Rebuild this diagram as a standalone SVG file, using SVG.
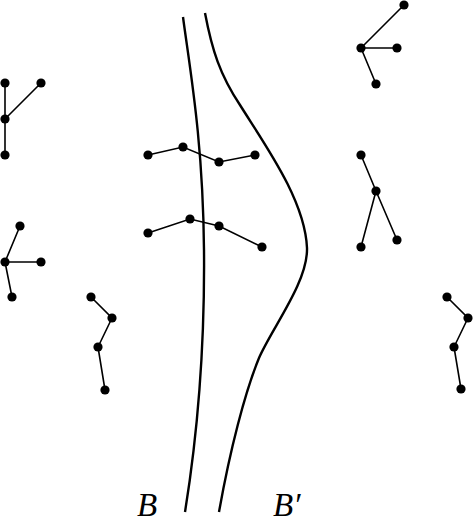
<svg xmlns="http://www.w3.org/2000/svg" width="474" height="524" viewBox="0 0 474 524">
<style>
.e{stroke:#000;stroke-width:1.6;fill:none}
.c{stroke:#000;stroke-width:2.4;fill:none}
.n{fill:#000}
.l{font-family:"Liberation Serif",serif;font-style:italic;font-size:33px;fill:#000}
</style>
<rect width="474" height="524" fill="#fff"/>
<g id="boundaries">
<path id="curveB" class="c" d="M183,17 C190,70 203,140 204,250 C205,360 195,450 185,512"/>
<path id="curveBp" class="c" d="M205,13 C212,50 220,75 240,105 C265,145 305,200 307,248 C308,282 272,328 259,358 C245,392 230,450 219,512"/>
</g>
<g id="connectors">
<path class="e" d="M5,83 L5,155 M5,119 L41,83"/>
<path class="e" d="M5,262 L20,226 M5,262 L41,262 M5,262 L12,297"/>
<path class="e" d="M91,297 L112,318 L98,347 L105,390"/>
<path class="e" d="M148,155 L183,147 L219,162 L255,155"/>
<path class="e" d="M148,233 L190,219 L219,226 L262,247"/>
<path class="e" d="M361,48 L404,5 M361,48 L397,48 M361,48 L376,84"/>
<path class="e" d="M361,155 L376,191 L361,247 M376,191 L397,240"/>
<path class="e" d="M447,297 L468,318 L454,347 L461,389"/>
</g>
<g id="graph1"><circle class="n" cx="5" cy="83" r="4.6"/><circle class="n" cx="41" cy="83" r="4.6"/><circle class="n" cx="5" cy="119" r="4.6"/><circle class="n" cx="5" cy="155" r="4.6"/></g>
<g id="graph2"><circle class="n" cx="20" cy="226" r="4.6"/><circle class="n" cx="5" cy="262" r="4.6"/><circle class="n" cx="41" cy="262" r="4.6"/><circle class="n" cx="12" cy="297" r="4.6"/></g>
<g id="graph3"><circle class="n" cx="91" cy="297" r="4.6"/><circle class="n" cx="112" cy="318" r="4.6"/><circle class="n" cx="98" cy="347" r="4.6"/><circle class="n" cx="105" cy="390" r="4.6"/></g>
<g id="graph4"><circle class="n" cx="148" cy="155" r="4.6"/><circle class="n" cx="183" cy="147" r="4.6"/><circle class="n" cx="219" cy="162" r="4.6"/><circle class="n" cx="255" cy="155" r="4.6"/></g>
<g id="graph5"><circle class="n" cx="148" cy="233" r="4.6"/><circle class="n" cx="190" cy="219" r="4.6"/><circle class="n" cx="219" cy="226" r="4.6"/><circle class="n" cx="262" cy="247" r="4.6"/></g>
<g id="graph6"><circle class="n" cx="404" cy="5" r="4.6"/><circle class="n" cx="361" cy="48" r="4.6"/><circle class="n" cx="397" cy="48" r="4.6"/><circle class="n" cx="376" cy="84" r="4.6"/></g>
<g id="graph7"><circle class="n" cx="361" cy="155" r="4.6"/><circle class="n" cx="376" cy="191" r="4.6"/><circle class="n" cx="361" cy="247" r="4.6"/><circle class="n" cx="397" cy="240" r="4.6"/></g>
<g id="graph8"><circle class="n" cx="447" cy="297" r="4.6"/><circle class="n" cx="468" cy="318" r="4.6"/><circle class="n" cx="454" cy="347" r="4.6"/><circle class="n" cx="461" cy="389" r="4.6"/></g>
<g id="labels">
<text class="l" x="137" y="516">B</text>
<text class="l" x="273" y="516">B′</text>
</g>
</svg>
